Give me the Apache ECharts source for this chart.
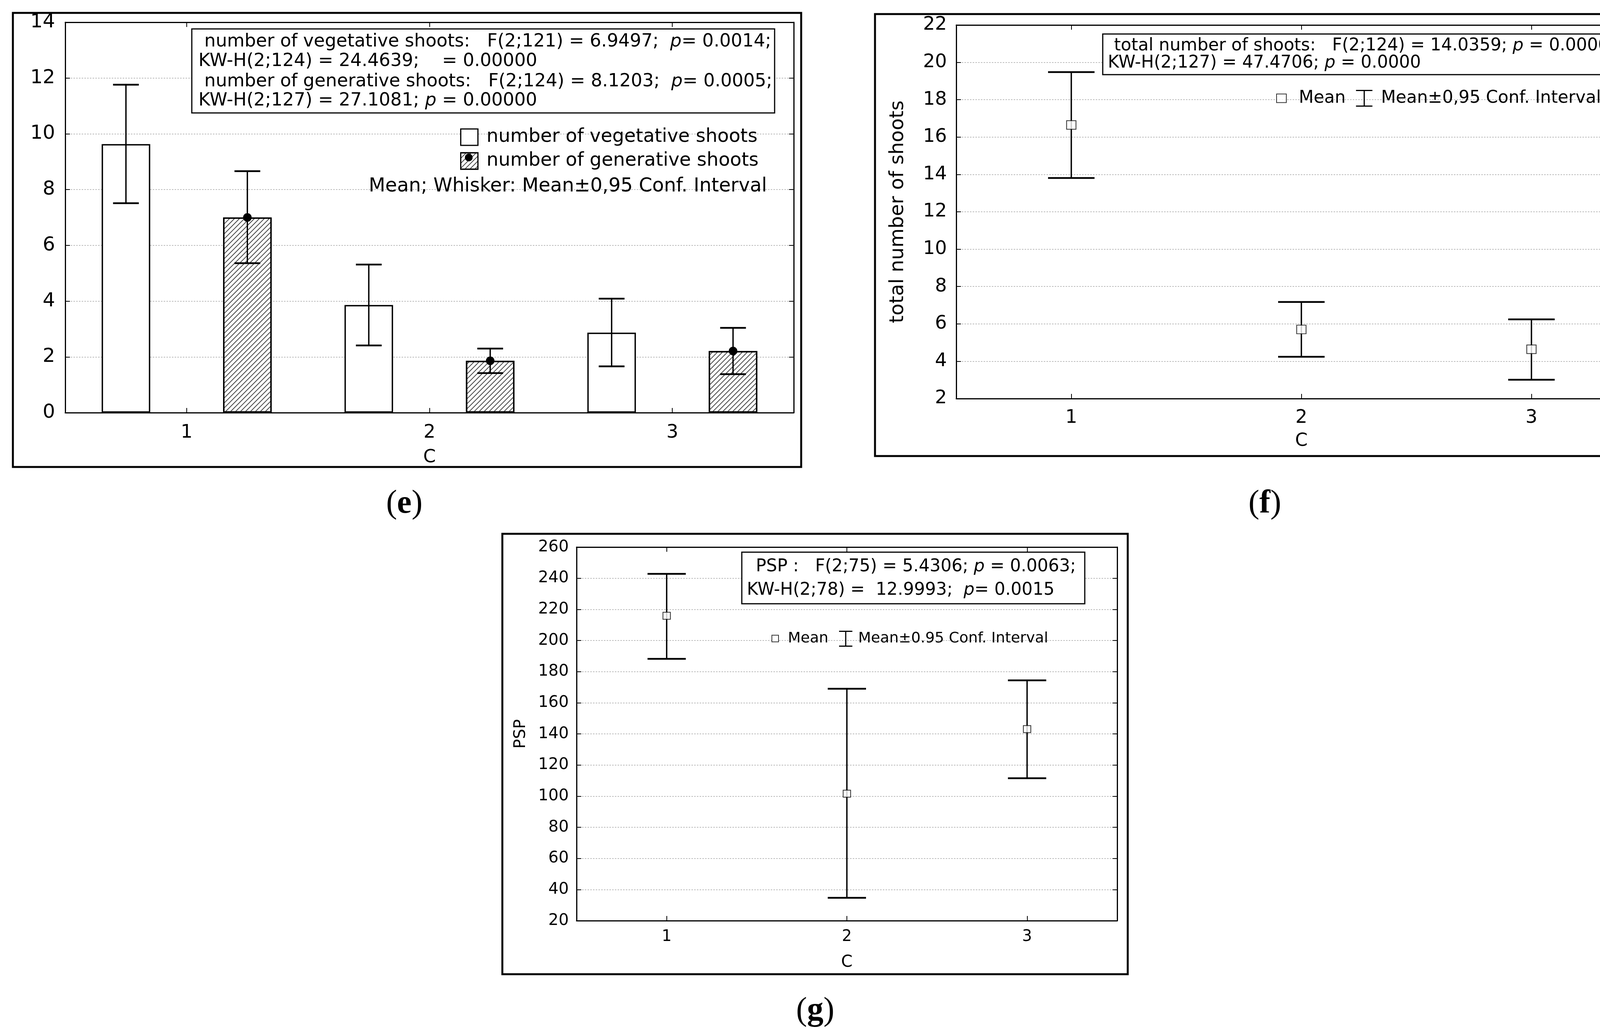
<!DOCTYPE html>
<html><head><meta charset="utf-8">
<script src="https://cdn.jsdelivr.net/npm/echarts@6/dist/echarts.min.js"></script>
<style>html,body{margin:0;padding:0;background:#fff}#c{width:4277px;height:2646px}</style>
</head><body><div id="c"></div>
<script>
// ---------- data ----------
const categories = ['1', '2', '3'];
// panel (e)
const vegName = 'number of vegetative shoots';
const genName = 'number of generative shoots';
const vegMean = [9.63, 3.86, 2.87];
const vegLow  = [7.51, 2.41, 1.66];
const vegHigh = [11.76, 5.31, 4.09];
const genMean = [7.00, 1.86, 2.21];
const genLow  = [5.36, 1.42, 1.38];
const genHigh = [8.66, 2.30, 3.04];
// panel (f)
const totalMean = [16.65, 5.70, 4.64];
const totalLow  = [13.81, 4.24, 3.01];
const totalHigh = [19.48, 7.17, 6.24];
// panel (g)
const pspMean = [215.9, 101.6, 143.1];
const pspLow  = [188.2, 34.7, 111.5];
const pspHigh = [242.8, 169.0, 174.4];
// axis ranges / ticks
const eTicks = {min: 0, max: 14, interval: 2};
const fTicks = {min: 2, max: 22, interval: 2};
const gTicks = {min: 20, max: 260, interval: 20};

const ciNameF = 'Mean\u00B10,95 Conf. Interval';
const ciNameG = 'Mean\u00B10.95 Conf. Interval';

// ---------- helpers ----------
const FONT = 'DejaVu Sans';
const SERIF = 'Liberation Serif';
const chart = echarts.init(document.getElementById('c'), null, {renderer: 'canvas'});

function errorBars(name, xi, yi, lo, hi, mean, offsetFrac, capW, dotR) {
  return {
    type: 'custom', name: name, xAxisIndex: xi, yAxisIndex: yi, z: 5,
    data: categories.map((c, i) => [i, lo[i], hi[i], mean[i]]),
    encode: {x: 0, y: [1, 2]},
    renderItem: function (params, api) {
      const i = api.value(0);
      const pLo = api.coord([i, api.value(1)]);
      const pHi = api.coord([i, api.value(2)]);
      const band = api.size([1, 0])[0];
      const x = pLo[0] + offsetFrac * band;
      const h = capW / 2;
      const st = {stroke: '#000', lineWidth: 3.5};
      const cap = {stroke: '#000', lineWidth: 4.5};
      const children = [
        {type: 'line', shape: {x1: x, y1: pHi[1], x2: x, y2: pLo[1]}, style: st},
        {type: 'line', shape: {x1: x - h, y1: pHi[1], x2: x + h, y2: pHi[1]}, style: cap},
        {type: 'line', shape: {x1: x - h, y1: pLo[1], x2: x + h, y2: pLo[1]}, style: cap}
      ];
      if (dotR) {
        const pM = api.coord([i, api.value(3)]);
        children.push({type: 'circle', shape: {cx: x, cy: pM[1], r: dotR}, style: {fill: '#000'}});
      }
      return {type: 'group', children: children};
    }
  };
}

const axisLineSt = {show: true, onZero: false, lineStyle: {color: '#000', width: 3}};
const tickSt = {show: true, inside: true, length: 12, lineStyle: {color: '#000', width: 2}};

function xAxes(gi, fontSize, labelMargin, nameSize, nameGap) {
  return [
    {type: 'category', gridIndex: gi, data: categories, position: 'bottom', boundaryGap: true,
     axisLine: axisLineSt, axisTick: Object.assign({alignWithLabel: true}, tickSt),
     axisLabel: {fontSize: fontSize, fontFamily: FONT, color: '#000', margin: labelMargin},
     name: 'C', nameLocation: 'middle', nameGap: nameGap,
     nameTextStyle: {fontSize: nameSize, fontFamily: FONT, color: '#000'}},
    {type: 'category', gridIndex: gi, data: categories, position: 'top', boundaryGap: true,
     axisLine: axisLineSt, axisTick: Object.assign({alignWithLabel: true}, tickSt),
     axisLabel: {show: false}}
  ];
}
function yAxes(gi, t, fontSize, labelMargin, name, nameSize, nameGap) {
  return [
    Object.assign({type: 'value', gridIndex: gi, position: 'left',
     axisLine: axisLineSt, axisTick: tickSt,
     axisLabel: {fontSize: fontSize, fontFamily: FONT, color: '#000', margin: labelMargin},
     splitLine: {show: true, lineStyle: {type: [4, 3], color: '#bdbdbd', width: 2}},
     name: name, nameLocation: 'middle', nameGap: nameGap,
     nameTextStyle: {fontSize: nameSize, fontFamily: FONT, color: '#000'}}, t),
    Object.assign({type: 'value', gridIndex: gi, position: 'right',
     axisLine: axisLineSt, axisTick: tickSt, axisLabel: {show: false}, splitLine: {show: false}}, t)
  ];
}

function txt(x, y, parts, size, extra) {
  const rich = {
    n: {fontSize: size, fontFamily: FONT, fill: '#000'},
    i: {fontSize: size, fontFamily: FONT, fontStyle: 'italic', fill: '#000'}
  };
  const s = parts.map(p => '{' + (p[1] ? 'i' : 'n') + '|' + p[0] + '}').join('');
  return Object.assign({type: 'text', x: x, y: y, z: 20,
    style: {text: s, rich: rich, fontSize: size, fontFamily: FONT, fill: '#000', align: 'left', verticalAlign: 'middle'}}, extra || {});
}
function box(x, y, w, h, lw) {
  return {type: 'rect', z: 15, shape: {x: x, y: y, width: w, height: h},
    style: {fill: '#fff', stroke: '#000', lineWidth: lw}};
}
function frame(x, y, w, h) {
  return {type: 'rect', z: 1, silent: true, shape: {x: x, y: y, width: w, height: h},
    style: {fill: 'none', stroke: '#000', lineWidth: 5}};
}
function figLabel(cx, cy, letter) {
  return {type: 'text', x: cx, y: cy, z: 20,
    style: {text: '{a|(}{b|' + letter + '}{a|)}', align: 'center', verticalAlign: 'middle',
      fontSize: 84, fontFamily: SERIF, fill: '#000',
      rich: {a: {fontSize: 84, fontFamily: SERIF, fill: '#000'},
             b: {fontSize: 84, fontFamily: SERIF, fontWeight: 'bold', fill: '#000'}}}};
}

const hatch = {symbol: 'rect', symbolSize: 1, dashArrayX: [1, 0], dashArrayY: [2, 7],
  rotation: -Math.PI / 4, color: '#444'};

const squareF = 'path://M0,0 M44,44 M8,11 L33,11 L33,33 L8,33 Z';
const ibeamF = 'path://M0,0 M44,44 M1,2 L43,2 M22,2 L22,42 M1,42 L43,42';
const squareG = 'path://M0,0 M40,40 M11,11 L28,11 L28,28 L11,28 Z';
const ibeamG = 'path://M0,0 M40,40 M3,1 L37,1 M20,1 L20,39 M3,39 L37,39';

const option = {
  backgroundColor: '#fff',
  animation: false,
  grid: [
    {left: 167, top: 57, width: 1865, height: 999},
    {left: 2448, top: 64, width: 1767, height: 956},
    {left: 1476, top: 1400, width: 1384, height: 956}
  ],
  xAxis: [].concat(
    xAxes(0, 48, 28, 46, 92),
    xAxes(1, 48, 26, 46, 86),
    xAxes(2, 40, 22, 42, 86)
  ),
  yAxis: [].concat(
    yAxes(0, eTicks, 50, 26, '', 44, 60),
    yAxes(1, fTicks, 48, 24, 'total number of shoots', 50, 124),
    yAxes(2, gTicks, 41, 20, 'PSP', 41, 122)
  ),
  legend: [
    {orient: 'vertical', left: 1178, top: 327, padding: 0, itemWidth: 44, itemHeight: 42, itemGap: 13,
     icon: 'rect', selectedMode: false,
     itemStyle: {borderWidth: 3, borderColor: '#000'},
     textStyle: {fontSize: 48, fontFamily: FONT, color: '#000', padding: [0, 0, 0, 17]},
     data: [vegName, genName]},
    {orient: 'horizontal', left: 3259, top: 228, padding: 0, itemWidth: 44, itemHeight: 44, itemGap: 24,
     selectedMode: false,
     textStyle: {fontSize: 44, fontFamily: FONT, color: '#000', padding: [0, 0, 0, 16]},
     data: [
       {name: 'Mean', icon: squareF, itemStyle: {color: '#fff', borderColor: '#000', borderWidth: 2}},
       {name: ciNameF, icon: ibeamF, itemStyle: {color: 'transparent', borderColor: '#000', borderWidth: 3}}
     ]},
    {orient: 'horizontal', left: 1964, top: 1613, padding: 0, itemWidth: 40, itemHeight: 40, itemGap: 23,
     selectedMode: false,
     textStyle: {fontSize: 38, fontFamily: FONT, color: '#000', padding: [0, 0, 0, 7]},
     data: [
       {name: 'Mean', icon: squareG, itemStyle: {color: '#fff', borderColor: '#000', borderWidth: 2}},
       {name: ciNameG, icon: ibeamG, itemStyle: {color: 'transparent', borderColor: '#000', borderWidth: 3}}
     ]}
  ],
  series: [
    {type: 'bar', name: vegName, xAxisIndex: 0, yAxisIndex: 0, data: vegMean,
     barWidth: '20%', barGap: '150%', z: 2,
     itemStyle: {color: '#fff', borderColor: '#000', borderWidth: 3.5}},
    {type: 'bar', name: genName, xAxisIndex: 0, yAxisIndex: 0, data: genMean,
     barWidth: '20%', barGap: '150%', z: 2,
     itemStyle: {color: '#fff', borderColor: '#000', borderWidth: 3.5, decal: hatch}},
    errorBars('CI vegetative', 0, 0, vegLow, vegHigh, vegMean, -0.25, 66, 0),
    errorBars('CI generative', 0, 0, genLow, genHigh, genMean, 0.25, 66, 11),

    errorBars(ciNameF, 2, 2, totalLow, totalHigh, totalMean, 0, 119, 0),
    {type: 'scatter', name: 'Mean', xAxisIndex: 2, yAxisIndex: 2, data: totalMean, z: 6,
     symbol: 'rect', symbolSize: [24, 22],
     itemStyle: {color: '#fff', borderColor: '#000', borderWidth: 2}},

    errorBars(ciNameG, 4, 4, pspLow, pspHigh, pspMean, 0, 98, 0),
    {type: 'scatter', name: 'Mean', xAxisIndex: 4, yAxisIndex: 4, data: pspMean, z: 6,
     symbol: 'rect', symbolSize: [19, 18],
     itemStyle: {color: '#fff', borderColor: '#000', borderWidth: 2}}
  ],
  graphic: [
    frame(33, 33, 2018, 1162),
    frame(2240, 36, 2006, 1131),
    frame(1286, 1366, 1601, 1127),

    // panel (e) statistics box
    box(491, 74, 1492, 215, 3),
    txt(523, 107, [['number of vegetative shoots:   F(2;121) = 6.9497;  '], ['p', true], ['= 0.0014;']], 46),
    txt(508, 157, [['KW-H(2;124) = 24.4639;    = 0.00000']], 46),
    txt(523, 209, [['number of generative shoots:   F(2;124) = 8.1203;  '], ['p', true], ['= 0.0005;']], 46),
    txt(508, 258, [['KW-H(2;127) = 27.1081; '], ['p', true], [' = 0.00000']], 46),
    txt(944, 477, [['Mean; Whisker: Mean\u00B10,95 Conf. Interval']], 49),
    {type: 'circle', z: 30, shape: {cx: 1200, cy: 403, r: 10}, style: {fill: '#000'}},

    // panel (f) statistics box
    box(2823, 87, 1380, 104, 3),
    txt(2852, 118, [['total number of shoots:   F(2;124) = 14.0359; '], ['p', true], [' = 0.00000;']], 44),
    txt(2836, 162, [['KW-H(2;127) = 47.4706; '], ['p', true], [' = 0.0000']], 44),

    // panel (g) statistics box
    box(1899, 1413, 878, 132, 3),
    txt(1935, 1451, [['PSP :   F(2;75) = 5.4306; '], ['p', true], [' = 0.0063;']], 44),
    txt(1912, 1511, [['KW-H(2;78) =  12.9993;  '], ['p', true], ['= 0.0015']], 44),

    figLabel(1035, 1290, 'e'),
    figLabel(3238, 1290, 'f'),
    figLabel(2087, 2588, 'g')
  ]
};
chart.setOption(option);
</script></body></html>
